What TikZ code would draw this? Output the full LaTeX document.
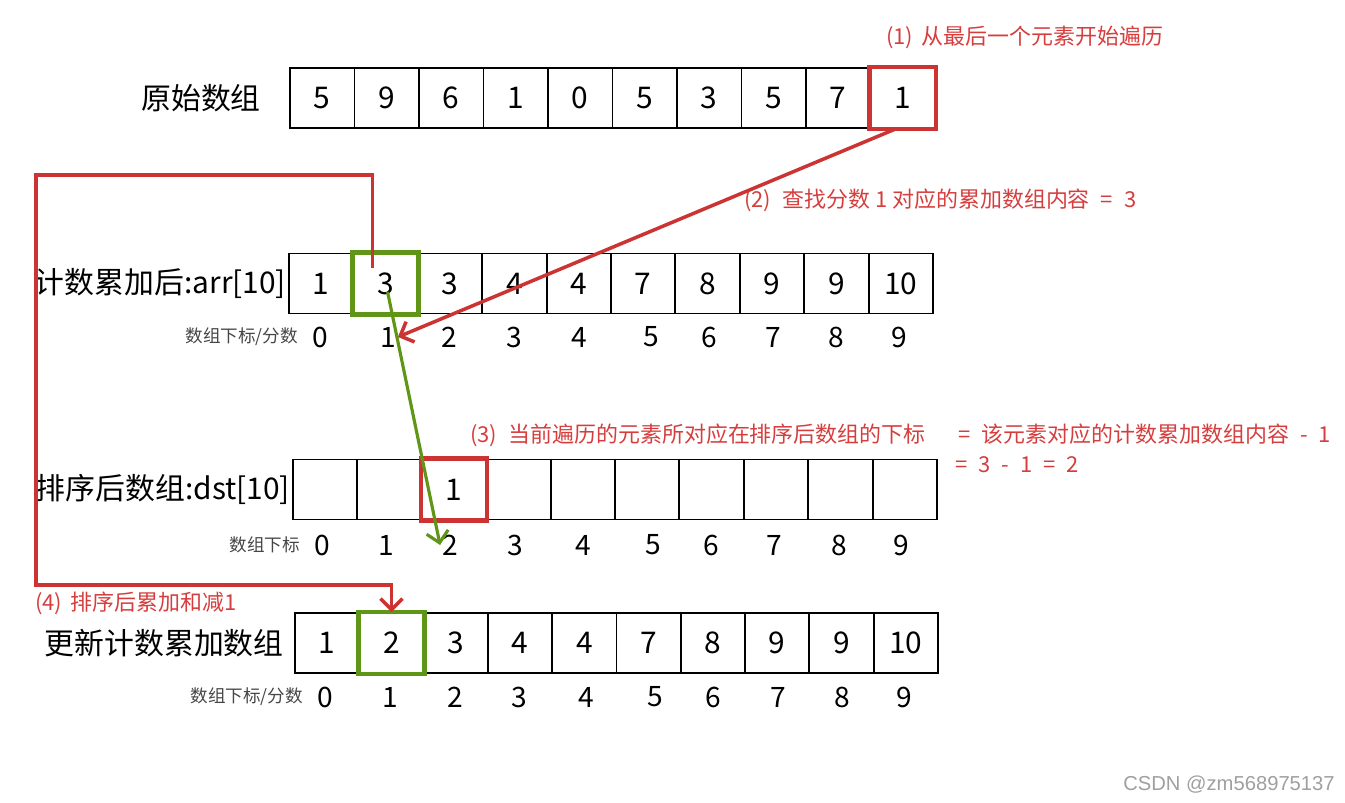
\documentclass[tikz,border=0pt]{standalone}
\usepackage{fontspec}
\setmainfont{Noto Sans CJK SC}
\newfontfamily\wmfont{Liberation Sans}
\usetikzlibrary{arrows.meta}
\definecolor{notered}{RGB}{214,62,62}
\definecolor{linered}{RGB}{204,51,51}
\definecolor{boxgreen}{RGB}{96,150,24}
\definecolor{idxgray}{RGB}{70,70,70}

\begin{document}
\begin{tikzpicture}[x=0.02cm, y=-0.02cm,
    cell/.style={draw, line width=1pt, minimum width=1.29cm, minimum height=1.2cm, inner sep=0pt, font=\fontsize{17}{17}\selectfont},
    idx/.style={inner sep=1pt, font=\fontsize{16}{16}\selectfont},
    idxnote/.style={inner sep=1pt, text=idxgray, font=\fontsize{10}{10}\selectfont},
    rowlabel/.style={inner sep=0pt, font=\fontsize{17}{17}\selectfont},
    note/.style={inner sep=0pt, text=notered, font=\fontsize{12.5}{12.5}\selectfont},
    hlred/.style={draw=linered, line width=2.6pt},
    hlgreen/.style={draw=boxgreen, line width=2.6pt},
    redline/.style={draw=linered, line width=2pt},
    arrowtip/.style={-{Straight Barb[length=2.2mm, width=4.4mm, line width=2pt]}}]

    \useasboundingbox (0,0) rectangle (1345,803);

    % Original array
    \foreach \v [count=\i from 0] in {5,9,6,1,0,5,3,5,7,1}
        \node[cell] (o\i) at (322.25+64.5*\i, 98) {\v};
    \node[rowlabel, anchor=east] at ([xshift=-0.56cm]o0.west) {原始数组};
    \draw[hlred] (o9.north west) rectangle (o9.south east);

    % Count array after accumulating
    \foreach \v [count=\i from 0] in {1,3,3,4,4,7,8,9,9,10}
        \node[cell] (c\i) at (321.2+64.4*\i, 283.5) {\v};
    \node[rowlabel, anchor=east] at ([xshift=-1pt]c0.west) {计数累加后:arr[10]};
    \draw[hlgreen] (c1.north west) rectangle (c1.south east);
    \foreach \x [count=\i from 0] in {320,388,449,514,579,651,709,773,836,899}
        \node[idx] (ci\i) at (\x, 337) {\i};
    \node[idxnote, anchor=east] at ([xshift=-0.2cm]ci0.west) {数组下标/分数};

    % Sorted array
    \foreach \i in {0,...,9}
        \node[cell] (d\i) at (325.2+64.4*\i, 489.5) {};
    \node[cell, draw=none] at (d2) {1};
    \node[rowlabel, anchor=east] at ([xshift=-1pt]d0.west) {排序后数组:dst[10]};
    \draw[hlred] (d2.north west) rectangle (d2.south east);
    \foreach \x [count=\i from 0] in {322,386,450,515,583,653,711,774,839,901}
        \node[idx] (di\i) at (\x, 545) {\i};
    \node[idxnote, anchor=east] at ([xshift=-0.2cm]di0.west) {数组下标};

    % Updated count array
    \foreach \v [count=\i from 0] in {1,2,3,4,4,7,8,9,9,10}
        \node[cell] (u\i) at (327.15+64.3*\i, 643) {\v};
    \node[rowlabel, anchor=east] at ([xshift=-0.2cm]u0.west) {更新计数累加数组};
    \draw[hlgreen] (u1.north west) rectangle (u1.south east);
    \foreach \x [count=\i from 0] in {325,390,455,519,586,655,713,778,842,904}
        \node[idx] (ui\i) at (\x, 697) {\i};
    \node[idxnote, anchor=east] at ([xshift=-0.2cm]ui0.west) {数组下标/分数};

    % Notes
    \node[note, anchor=west] (n1) at (886,37) {(1)\, 从最后一个元素开始遍历};
    \node[note, anchor=west] (n2) at (744,200) {(2)\; 查找分数 1 对应的累加数组内容\; =\; 3};
    \node[note, anchor=west] (n3) at (470,435) {(3)\; 当前遍历的元素所对应在排序后数组的下标\quad\; =\; 该元素对应的计数累加数组内容\; -\; 1};
    \node[note, anchor=west] (n3b) at (955,465) {=\; 3\; -\; 1\; =\; 2};
    \node[note, anchor=west] (n4) at (35,603) {(4)\, 排序后累加和减1};

    % Arrows
    \draw[redline, arrowtip] ([xshift=-0.14cm]o9.south) -- (ci1.east);
    \draw[draw=boxgreen, line width=1.8pt, -{Straight Barb[length=2.2mm, width=4.4mm, line width=1.8pt]}]
        ([xshift=0.04cm, yshift=-0.17cm]c1.center) -- (di2.west);
    \coordinate (start) at ([xshift=-0.26cm, yshift=0.31cm]c1.center);
    \coordinate (rtop) at (36,175);
    \coordinate (rbot) at (36,585);
    \draw[redline, arrowtip] (start) |- (rtop) -- (rbot) -| (u1.north);

    % Watermark
    \node[text=gray!75, font=\wmfont\fontsize{11.5}{11.5}\selectfont] at (1229,785) {CSDN @zm568975137};
\end{tikzpicture}
\end{document}
